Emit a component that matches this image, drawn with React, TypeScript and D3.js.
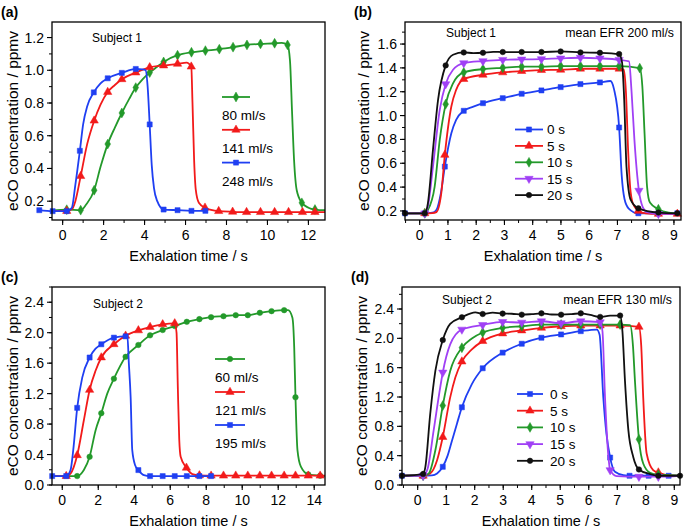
import React from "react";
import * as d3 from "d3";

type Pt = [number, number];

const FONT = "Arial, 'Liberation Sans', Helvetica, sans-serif";

// ---------- panel (a): Subject 1, three flow rates ----------
const a80Line: Pt[] = [[-0.49,0.143],[0.2,0.148],[0.88,0.145],[1.15,0.18],[1.54,0.267],[1.85,0.41],[2.2,0.549],[2.55,0.65],[2.89,0.739],[3.25,0.825],[3.57,0.894],[3.9,0.945],[4.25,0.986],[4.6,1.02],[4.93,1.051],[5.61,1.092],[6.29,1.11],[6.97,1.12],[7.65,1.129],[8.32,1.141],[9.0,1.155],[9.66,1.161],[10.35,1.165],[10.7,1.168],[10.98,1.155],[11.1,1.06],[11.2,0.75],[11.3,0.45],[11.43,0.267],[11.68,0.19],[12.0,0.16],[12.32,0.149],[12.81,0.145]];
const a80Marks: Pt[] = [[0.2,0.148],[0.88,0.145],[1.54,0.267],[2.2,0.549],[2.89,0.739],[3.57,0.894],[4.25,0.986],[4.93,1.051],[5.61,1.092],[6.29,1.11],[6.97,1.12],[7.65,1.129],[8.32,1.141],[9.0,1.155],[9.66,1.161],[10.35,1.165],[10.98,1.155],[11.68,0.19],[12.32,0.149]];
const a141Line: Pt[] = [[-0.49,0.14],[0.2,0.14],[0.45,0.15],[0.62,0.2],[0.88,0.353],[1.2,0.55],[1.54,0.692],[1.85,0.79],[2.2,0.867],[2.55,0.91],[2.89,0.945],[3.57,0.986],[4.25,1.018],[4.93,1.029],[5.61,1.039],[6.05,1.047],[6.28,1.022],[6.34,0.8],[6.42,0.45],[6.5,0.27],[6.65,0.19],[6.95,0.16],[7.62,0.139],[8.3,0.135],[8.98,0.133],[9.66,0.133],[10.35,0.133],[11.03,0.133],[11.71,0.133],[12.32,0.133],[12.81,0.133]];
const a141Marks: Pt[] = [[0.2,0.14],[0.88,0.353],[1.54,0.692],[2.2,0.867],[2.89,0.945],[3.57,0.986],[4.25,1.018],[4.93,1.029],[5.61,1.039],[6.28,1.022],[6.95,0.16],[7.62,0.139],[8.3,0.135],[8.98,0.133],[9.66,0.133],[10.35,0.133],[11.03,0.133],[11.71,0.133],[12.32,0.133]];
const a248Line: Pt[] = [[-1.14,0.145],[-0.49,0.139],[0.2,0.139],[0.45,0.16],[0.62,0.3],[0.84,0.508],[1.0,0.67],[1.2,0.78],[1.52,0.865],[1.85,0.92],[2.2,0.951],[2.89,0.984],[3.57,1.008],[3.9,1.005],[4.05,1.0],[4.15,0.9],[4.25,0.669],[4.35,0.42],[4.46,0.28],[4.62,0.2],[4.93,0.149],[5.61,0.145],[6.29,0.141],[6.97,0.141]];
const a248Marks: Pt[] = [[-1.14,0.145],[-0.49,0.139],[0.2,0.139],[0.84,0.508],[1.52,0.865],[2.2,0.951],[2.89,0.984],[3.57,1.008],[4.25,0.669],[4.93,0.149],[5.61,0.145],[6.29,0.141],[6.97,0.141]];

// ---------- panel (b): Subject 1, breath-hold times ----------
const b0Line: Pt[] = [[-0.52,0.18],[0.18,0.18],[0.45,0.185],[0.59,0.208],[0.75,0.35],[0.89,0.572],[1.12,0.852],[1.29,0.964],[1.56,1.04],[1.9,1.075],[2.24,1.104],[2.94,1.146],[3.61,1.183],[4.31,1.211],[4.99,1.239],[5.69,1.264],[6.38,1.278],[6.75,1.29],[6.88,1.22],[7.06,0.9],[7.15,0.5],[7.25,0.3],[7.4,0.22],[7.74,0.18],[8.45,0.18],[9.12,0.18]];
const b0Marks: Pt[] = [[-0.52,0.18],[0.18,0.18],[0.89,0.572],[1.56,1.04],[2.24,1.104],[2.94,1.146],[3.61,1.183],[4.31,1.211],[4.99,1.239],[5.69,1.264],[6.38,1.278],[7.06,0.9],[7.74,0.18],[8.45,0.18],[9.12,0.18]];
const b5Line: Pt[] = [[-0.52,0.18],[0.18,0.18],[0.45,0.182],[0.59,0.19],[0.76,0.34],[0.89,0.67],[1.12,1.076],[1.29,1.216],[1.56,1.306],[2.24,1.342],[2.94,1.362],[3.61,1.373],[4.31,1.382],[4.99,1.384],[5.69,1.393],[6.38,1.393],[7.06,1.393],[7.22,1.385],[7.3,1.2],[7.38,0.7],[7.45,0.4],[7.55,0.26],[7.74,0.2],[8.0,0.18],[8.45,0.175],[9.12,0.175]];
const b5Marks: Pt[] = [[0.18,0.18],[0.89,0.67],[1.56,1.306],[2.24,1.342],[2.94,1.362],[3.61,1.373],[4.31,1.382],[4.99,1.384],[5.69,1.393],[6.38,1.393],[7.06,1.393],[7.74,0.2],[8.45,0.175],[9.12,0.175]];
const b10Line: Pt[] = [[-0.52,0.18],[0.18,0.18],[0.29,0.208],[0.53,0.404],[0.71,0.796],[0.92,1.096],[1.18,1.27],[1.56,1.362],[2.24,1.39],[2.94,1.401],[3.61,1.41],[4.31,1.41],[4.99,1.415],[5.69,1.415],[6.38,1.415],[7.06,1.415],[7.79,1.398],[7.88,1.25],[7.96,0.85],[8.05,0.4],[8.15,0.27],[8.45,0.214],[8.82,0.186],[9.12,0.18]];
const b10Marks: Pt[] = [[0.18,0.18],[0.92,1.096],[1.56,1.362],[2.24,1.39],[2.94,1.401],[3.61,1.41],[4.31,1.41],[4.99,1.415],[5.69,1.415],[6.38,1.415],[7.06,1.415],[7.79,1.398],[8.45,0.214]];
const b15Line: Pt[] = [[-0.52,0.18],[0.18,0.18],[0.29,0.236],[0.47,0.572],[0.71,1.048],[0.92,1.264],[1.18,1.384],[1.56,1.44],[2.24,1.457],[2.94,1.468],[3.61,1.471],[4.31,1.474],[4.99,1.48],[5.69,1.485],[6.38,1.48],[7.06,1.468],[7.41,1.454],[7.5,1.2],[7.6,0.8],[7.76,0.37],[7.9,0.23],[8.05,0.19],[8.45,0.175],[9.12,0.175]];
const b15Marks: Pt[] = [[0.18,0.18],[0.92,1.264],[1.56,1.44],[2.24,1.457],[2.94,1.468],[3.61,1.471],[4.31,1.474],[4.99,1.48],[5.69,1.485],[6.38,1.48],[7.06,1.468],[7.76,0.37],[8.45,0.175]];
const b20Line: Pt[] = [[-0.52,0.18],[0.18,0.18],[0.29,0.264],[0.47,0.712],[0.65,1.132],[0.92,1.421],[1.18,1.51],[1.56,1.53],[1.9,1.524],[2.24,1.527],[2.6,1.535],[2.94,1.533],[3.61,1.533],[4.31,1.533],[4.99,1.538],[5.69,1.53],[6.38,1.527],[7.06,1.516],[7.16,1.45],[7.24,1.132],[7.32,0.572],[7.47,0.292],[7.74,0.222],[8.45,0.186],[9.12,0.18]];
const b20Marks: Pt[] = [[-0.52,0.18],[0.18,0.18],[0.92,1.421],[1.56,1.53],[2.24,1.527],[2.94,1.533],[3.61,1.533],[4.31,1.533],[4.99,1.538],[5.69,1.53],[6.38,1.527],[7.06,1.516],[7.74,0.222],[8.45,0.186],[9.12,0.18]];

// ---------- panel (c): Subject 2, three flow rates ----------
const c60Line: Pt[] = [[-0.56,0.117],[0.22,0.117],[0.83,0.117],[1.2,0.196],[1.52,0.37],[1.85,0.717],[2.17,0.943],[2.5,1.2],[2.87,1.396],[3.52,1.683],[4.23,1.839],[4.88,1.965],[5.58,2.035],[6.25,2.087],[6.92,2.143],[7.62,2.178],[8.27,2.204],[8.96,2.217],[9.64,2.23],[10.31,2.23],[10.98,2.261],[11.63,2.283],[12.33,2.296],[12.55,2.296],[12.79,2.196],[12.89,1.8],[12.96,1.152],[13.07,0.457],[13.26,0.24],[13.67,0.139],[14.33,0.122],[14.6,0.12]];
const c60Marks: Pt[] = [[0.83,0.117],[1.52,0.37],[2.17,0.943],[2.87,1.396],[3.52,1.683],[4.23,1.839],[4.88,1.965],[5.58,2.035],[6.25,2.087],[6.92,2.143],[7.62,2.178],[8.27,2.204],[8.96,2.217],[9.64,2.23],[10.31,2.23],[10.98,2.261],[11.63,2.283],[12.33,2.296],[12.96,1.152],[13.67,0.139],[14.33,0.122]];
const c121Line: Pt[] = [[-0.56,0.117],[0.22,0.117],[0.46,0.15],[0.83,0.391],[1.2,0.85],[1.52,1.248],[1.85,1.5],[2.17,1.674],[2.87,1.848],[3.52,1.96],[4.23,2.03],[4.88,2.074],[5.58,2.109],[6.25,2.122],[6.35,2.0],[6.42,1.3],[6.5,0.6],[6.58,0.37],[6.9,0.226],[7.23,0.143],[7.62,0.126],[8.27,0.122],[8.96,0.122],[9.64,0.122],[10.31,0.122],[10.98,0.122],[11.63,0.122],[12.33,0.122],[12.96,0.122],[13.67,0.122],[14.33,0.122],[14.6,0.122]];
const c121Marks: Pt[] = [[0.22,0.117],[0.83,0.391],[1.52,1.248],[2.17,1.674],[2.87,1.848],[3.52,1.96],[4.23,2.03],[4.88,2.074],[5.58,2.109],[6.25,2.122],[6.9,0.226],[7.62,0.126],[8.27,0.122],[8.96,0.122],[9.64,0.122],[10.31,0.122],[10.98,0.122],[11.63,0.122],[12.33,0.122],[12.96,0.122],[13.67,0.122],[14.33,0.122]];
const c195Line: Pt[] = [[-0.56,0.117],[0.22,0.117],[0.46,0.196],[0.61,0.457],[0.83,1.013],[1.11,1.41],[1.52,1.674],[1.85,1.79],[2.17,1.848],[2.87,1.935],[3.52,1.952],[3.62,1.95],[3.7,1.6],[3.8,1.152],[3.89,0.457],[4.05,0.26],[4.23,0.196],[4.54,0.13],[4.88,0.117],[5.58,0.117],[6.25,0.117],[6.92,0.117],[7.62,0.117],[8.27,0.117]];
const c195Marks: Pt[] = [[-0.56,0.117],[0.22,0.117],[0.83,1.013],[1.52,1.674],[2.17,1.848],[2.87,1.935],[3.52,1.952],[4.23,0.196],[4.88,0.117],[5.58,0.117],[6.25,0.117],[6.92,0.117],[7.62,0.117],[8.27,0.117]];

// ---------- panel (d): Subject 2, breath-hold times ----------
const d0Line: Pt[] = [[-0.55,0.126],[0.19,0.126],[0.5,0.13],[0.68,0.158],[0.88,0.248],[1.05,0.4],[1.2,0.6],[1.38,0.84],[1.55,1.06],[1.9,1.376],[2.28,1.592],[2.98,1.805],[3.65,1.926],[4.34,2.008],[5.03,2.053],[5.72,2.098],[6.28,2.12],[6.38,2.05],[6.51,1.195],[6.62,0.7],[6.75,0.374],[6.92,0.18],[7.21,0.135],[7.5,0.126],[9.2,0.126]];
const d0Marks: Pt[] = [[-0.55,0.126],[0.19,0.126],[0.88,0.248],[1.55,1.06],[2.28,1.592],[2.98,1.805],[3.65,1.926],[4.34,2.008],[5.03,2.053],[5.72,2.098],[6.75,0.374],[7.43,0.126],[8.1,0.126],[8.8,0.126]];
const d5Line: Pt[] = [[-0.55,0.126],[0.19,0.126],[0.44,0.158],[0.68,0.338],[0.88,0.654],[1.14,1.195],[1.32,1.466],[1.55,1.683],[1.9,1.85],[2.28,1.962],[2.98,2.066],[3.65,2.107],[4.34,2.143],[5.03,2.165],[5.72,2.174],[6.4,2.174],[7.1,2.174],[7.76,2.156],[7.84,1.9],[7.91,1.195],[8.03,0.429],[8.26,0.203],[8.44,0.17],[8.85,0.13],[9.2,0.126]];
const d5Marks: Pt[] = [[0.19,0.126],[0.88,0.654],[1.55,1.683],[2.28,1.962],[2.98,2.066],[3.65,2.107],[4.34,2.143],[5.03,2.165],[5.72,2.174],[6.4,2.174],[7.1,2.174],[7.76,2.156],[8.44,0.17]];
const d10Line: Pt[] = [[-0.55,0.126],[0.19,0.126],[0.39,0.158],[0.62,0.474],[0.88,1.083],[1.14,1.556],[1.55,1.872],[1.9,1.998],[2.28,2.08],[2.98,2.143],[3.65,2.165],[4.34,2.188],[5.03,2.188],[5.72,2.188],[6.4,2.188],[7.1,2.188],[7.45,2.18],[7.55,1.9],[7.62,1.42],[7.76,0.623],[7.91,0.293],[8.15,0.167],[8.44,0.14],[9.2,0.126]];
const d10Marks: Pt[] = [[0.19,0.126],[0.88,1.083],[1.55,1.872],[2.28,2.08],[2.98,2.143],[3.65,2.165],[4.34,2.188],[5.03,2.188],[5.72,2.188],[6.4,2.188],[7.1,2.188],[7.76,0.623],[8.44,0.14]];
const d15Line: Pt[] = [[-0.55,0.126],[0.19,0.126],[0.35,0.226],[0.56,0.744],[0.79,1.331],[0.88,1.534],[1.14,1.917],[1.55,2.12],[2.28,2.183],[2.98,2.224],[3.65,2.215],[4.34,2.233],[5.03,2.206],[5.72,2.233],[6.4,2.22],[6.48,2.1],[6.57,1.195],[6.69,0.383],[6.75,0.203],[6.98,0.122],[7.76,0.113],[8.44,0.113],[9.2,0.126]];
const d15Marks: Pt[] = [[0.19,0.126],[0.88,1.534],[1.55,2.12],[2.28,2.183],[2.98,2.224],[3.65,2.215],[4.34,2.233],[5.03,2.206],[5.72,2.233],[6.4,2.22],[6.75,0.203],[7.76,0.113],[8.44,0.113]];
const d20Line: Pt[] = [[-0.55,0.126],[0.19,0.149],[0.27,0.248],[0.44,0.97],[0.62,1.556],[0.88,1.976],[1.14,2.197],[1.55,2.287],[2.02,2.355],[2.28,2.332],[2.63,2.35],[2.98,2.337],[3.3,2.335],[3.65,2.323],[4.0,2.33],[4.34,2.341],[4.7,2.325],[5.03,2.323],[5.4,2.33],[5.72,2.341],[6.05,2.32],[6.4,2.292],[6.75,2.31],[7.1,2.31],[7.18,2.1],[7.27,1.42],[7.39,0.744],[7.56,0.383],[7.76,0.212],[8.15,0.149],[8.44,0.126],[9.2,0.126]];
const d20Marks: Pt[] = [[-0.55,0.126],[0.19,0.149],[0.88,1.976],[1.55,2.287],[2.28,2.332],[2.98,2.337],[3.65,2.323],[4.34,2.341],[5.03,2.323],[5.72,2.341],[6.4,2.292],[7.1,2.31],[7.76,0.212],[8.44,0.126],[9.2,0.126]];

// ---------- tick labels ----------
const aXTicks = [0, 2, 4, 6, 8, 10, 12];
const aYTicks = [0.2, 0.4, 0.6, 0.8, 1.0, 1.2];
const bXTicks = [0, 1, 2, 3, 4, 5, 6, 7, 8, 9];
const bYTicks = [0.2, 0.4, 0.6, 0.8, 1.0, 1.2, 1.4, 1.6];
const cXTicks = [0, 2, 4, 6, 8, 10, 12, 14];
const cYTicks = [0.0, 0.4, 0.8, 1.2, 1.6, 2.0, 2.4];
const dXTicks = [0, 1, 2, 3, 4, 5, 6, 7, 8, 9];
const dYTicks = [0.0, 0.4, 0.8, 1.2, 1.6, 2.0, 2.4];

const flowLabelsA = ["80  ml/s", "141 ml/s", "248 ml/s"];
const flowLabelsC = ["60 ml/s", "121 ml/s", "195 ml/s"];
const holdLabels = ["0 s", "5 s", "10 s", "15 s", "20 s"];

const BLUE = "#1f3ff2";
const RED = "#f21a1a";
const GREEN = "#23992a";
const PURPLE = "#a040f5";
const BLACK = "#111111";

type Shape = "square" | "up" | "down" | "diamond" | "circle";

interface Series {
  label: string;
  color: string;
  shape: Shape;
  line: Pt[];
  marks: Pt[];
}

function symbolD(shape: Shape): string {
  const gen = d3.symbol();
  if (shape === "square") return gen.type(d3.symbolSquare).size(26)() as string;
  if (shape === "up" || shape === "down") return gen.type(d3.symbolTriangle).size(30)() as string;
  if (shape === "diamond") return gen.type(d3.symbolDiamond).size(28)() as string;
  return gen.type(d3.symbolCircle).size(24)() as string;
}

function Marker({ x, y, s }: { x: number; y: number; s: Series }) {
  const rot = s.shape === "down" ? " rotate(180)" : "";
  return <path d={symbolD(s.shape)} transform={`translate(${x},${y})${rot}`} fill={s.color} stroke={s.color} strokeWidth={0.5} />;
}

interface PanelProps {
  tag: string;
  box: { x0: number; x1: number; y0: number; y1: number };
  xDomain: [number, number];
  yDomain: [number, number];
  xTicks: number[];
  yTicks: number[];
  series: Series[]; // draw order
  legendOrder: Series[];
  legend: { kind: "stacked" | "side"; x0: number; x1: number; y: number; step: number; textX?: number; textDy?: number };
  subject: { text: string; x: number; y: number };
  efr?: { text: string; x: number; y: number };
  yTitleX: number;
}

function Panel(p: PanelProps) {
  const { box } = p;
  const x = d3.scaleLinear().domain(p.xDomain).range([box.x0, box.x1]);
  const y = d3.scaleLinear().domain(p.yDomain).range([box.y1, box.y0]);
  const line = d3.line<Pt>().x(d => x(d[0])).y(d => y(d[1])).curve(d3.curveMonotoneX);

  const xStep = (p.xTicks[1] - p.xTicks[0]) / 2;
  const yStep = (p.yTicks[1] - p.yTicks[0]) / 2;
  const xMinor = d3.range(p.xTicks[0] - 4 * xStep, p.xDomain[1] + 1e-6, xStep)
    .filter(v => v >= p.xDomain[0] - 1e-6 && v <= p.xDomain[1] + 1e-6);
  const yMinor = d3.range(p.yTicks[0] - 4 * yStep, p.yDomain[1] + 1e-6, yStep)
    .filter(v => v >= p.yDomain[0] - 1e-6 && v <= p.yDomain[1] + 1e-6);
  const fmtY = d3.format(".1f");

  const lg = p.legend;
  return (
    <g fontFamily={FONT}>
      <text x={box.x0 - 51} y={box.y0 - 5} fontSize={14} fontWeight="bold">{p.tag}</text>

      {p.series.map(s => (
        <g key={s.label}>
          <path d={line(s.line) as string} fill="none" stroke={s.color} strokeWidth={1.8} />
          {s.marks.map((m, i) => <Marker key={i} x={x(m[0])} y={y(m[1])} s={s} />)}
        </g>
      ))}

      <rect x={box.x0} y={box.y0} width={box.x1 - box.x0} height={box.y1 - box.y0} fill="none" stroke="#000" strokeWidth={1.3} />

      {xMinor.map((v, i) => <line key={"xm" + i} x1={x(v)} x2={x(v)} y1={box.y1} y2={box.y1 + 3} stroke="#000" strokeWidth={1} />)}
      {p.xTicks.map(v => (
        <g key={"xt" + v}>
          <line x1={x(v)} x2={x(v)} y1={box.y1} y2={box.y1 + 5} stroke="#000" strokeWidth={1.1} />
          <text x={x(v)} y={box.y1 + 20} fontSize={14} textAnchor="middle">{v}</text>
        </g>
      ))}
      {yMinor.map((v, i) => <line key={"ym" + i} x1={box.x0 - 3} x2={box.x0} y1={y(v)} y2={y(v)} stroke="#000" strokeWidth={1} />)}
      {p.yTicks.map(v => (
        <g key={"yt" + v}>
          <line x1={box.x0 - 5} x2={box.x0} y1={y(v)} y2={y(v)} stroke="#000" strokeWidth={1.1} />
          <text x={box.x0 - 8} y={y(v)} dy="0.36em" fontSize={14} textAnchor="end">{fmtY(v)}</text>
        </g>
      ))}

      <text x={(box.x0 + box.x1) / 2} y={box.y1 + 41} fontSize={14.5} textAnchor="middle">Exhalation time / s</text>
      <text transform={`translate(${p.yTitleX},${(box.y0 + box.y1) / 2}) rotate(-90)`} fontSize={15.5} textAnchor="middle" dy="0.35em">
        eCO concentration / ppmv
      </text>

      <text x={p.subject.x} y={p.subject.y} fontSize={12}>{p.subject.text}</text>
      {p.efr && <text x={p.efr.x} y={p.efr.y} fontSize={12.3} textAnchor="end">{p.efr.text}</text>}

      {p.legendOrder.map((s, i) => {
        const ly = lg.y + i * lg.step;
        const mx = (lg.x0 + lg.x1) / 2;
        return (
          <g key={"lg" + s.label}>
            <line x1={lg.x0} x2={lg.x1} y1={ly} y2={ly} stroke={s.color} strokeWidth={1.8} />
            <Marker x={mx} y={ly} s={s} />
            {lg.kind === "stacked" ? (
              <text x={lg.x0} y={ly + (lg.textDy ?? 23)} fontSize={13.5}>{s.label}</text>
            ) : (
              <text x={lg.textX} y={ly} dy="0.36em" fontSize={13.5}>{s.label}</text>
            )}
          </g>
        );
      })}
    </g>
  );
}

export default function App() {
  const aSeries: Series[] = [
    { label: flowLabelsA[0], color: GREEN, shape: "diamond", line: a80Line, marks: a80Marks },
    { label: flowLabelsA[1], color: RED, shape: "up", line: a141Line, marks: a141Marks },
    { label: flowLabelsA[2], color: BLUE, shape: "square", line: a248Line, marks: a248Marks },
  ];
  const cSeries: Series[] = [
    { label: flowLabelsC[0], color: GREEN, shape: "circle", line: c60Line, marks: c60Marks },
    { label: flowLabelsC[1], color: RED, shape: "up", line: c121Line, marks: c121Marks },
    { label: flowLabelsC[2], color: BLUE, shape: "square", line: c195Line, marks: c195Marks },
  ];
  const bSeries: Series[] = [
    { label: holdLabels[0], color: BLUE, shape: "square", line: b0Line, marks: b0Marks },
    { label: holdLabels[1], color: RED, shape: "up", line: b5Line, marks: b5Marks },
    { label: holdLabels[2], color: GREEN, shape: "diamond", line: b10Line, marks: b10Marks },
    { label: holdLabels[3], color: PURPLE, shape: "down", line: b15Line, marks: b15Marks },
    { label: holdLabels[4], color: BLACK, shape: "circle", line: b20Line, marks: b20Marks },
  ];
  const dSeries: Series[] = [
    { label: holdLabels[0], color: BLUE, shape: "square", line: d0Line, marks: d0Marks },
    { label: holdLabels[1], color: RED, shape: "up", line: d5Line, marks: d5Marks },
    { label: holdLabels[2], color: GREEN, shape: "diamond", line: d10Line, marks: d10Marks },
    { label: holdLabels[3], color: PURPLE, shape: "down", line: d15Line, marks: d15Marks },
    { label: holdLabels[4], color: BLACK, shape: "circle", line: d20Line, marks: d20Marks },
  ];

  return (
    <svg width={685} height={531} style={{ position: "absolute", left: 0, top: 0, background: "#fff" }}>
      <rect width={685} height={531} fill="#fff" />
      <Panel
        tag="(a)" box={{ x0: 52, x1: 325, y0: 22, y1: 220 }}
        xDomain={[-0.52, 12.81]} yDomain={[0.085, 1.295]}
        xTicks={aXTicks} yTicks={aYTicks}
        series={aSeries} legendOrder={aSeries}
        legend={{ kind: "stacked", x0: 222, x1: 250, y: 97, step: 32.8, textDy: 23 }}
        subject={{ text: "Subject 1", x: 92, y: 42 }}
        yTitleX={13}
      />
      <Panel
        tag="(b)" box={{ x0: 405, x1: 681, y0: 22, y1: 220 }}
        xDomain={[-0.52, 9.25]} yDomain={[0.124, 1.785]}
        xTicks={bXTicks} yTicks={bYTicks}
        series={bSeries} legendOrder={bSeries}
        legend={{ kind: "side", x0: 515, x1: 543, y: 129.5, step: 16.4, textX: 547 }}
        subject={{ text: "Subject 1", x: 446, y: 37 }}
        efr={{ text: "mean EFR 200 ml/s", x: 674, y: 37 }}
        yTitleX={364}
      />
      <Panel
        tag="(c)" box={{ x0: 52, x1: 325, y0: 287, y1: 485 }}
        xDomain={[-0.57, 14.6]} yDomain={[0, 2.6]}
        xTicks={cXTicks} yTicks={cYTicks}
        series={cSeries} legendOrder={cSeries}
        legend={{ kind: "stacked", x0: 215, x1: 245, y: 359, step: 33, textDy: 23 }}
        subject={{ text: "Subject 2", x: 93, y: 308 }}
        yTitleX={13}
      />
      <Panel
        tag="(d)" box={{ x0: 402, x1: 680, y0: 287, y1: 485 }}
        xDomain={[-0.55, 9.2]} yDomain={[0, 2.7]}
        xTicks={dXTicks} yTicks={dYTicks}
        series={dSeries} legendOrder={dSeries}
        legend={{ kind: "side", x0: 517, x1: 543, y: 394, step: 16.7, textX: 550 }}
        subject={{ text: "Subject 2", x: 442, y: 303.5 }}
        efr={{ text: "mean EFR 130 ml/s", x: 672, y: 303.5 }}
        yTitleX={362}
      />
    </svg>
  );
}
